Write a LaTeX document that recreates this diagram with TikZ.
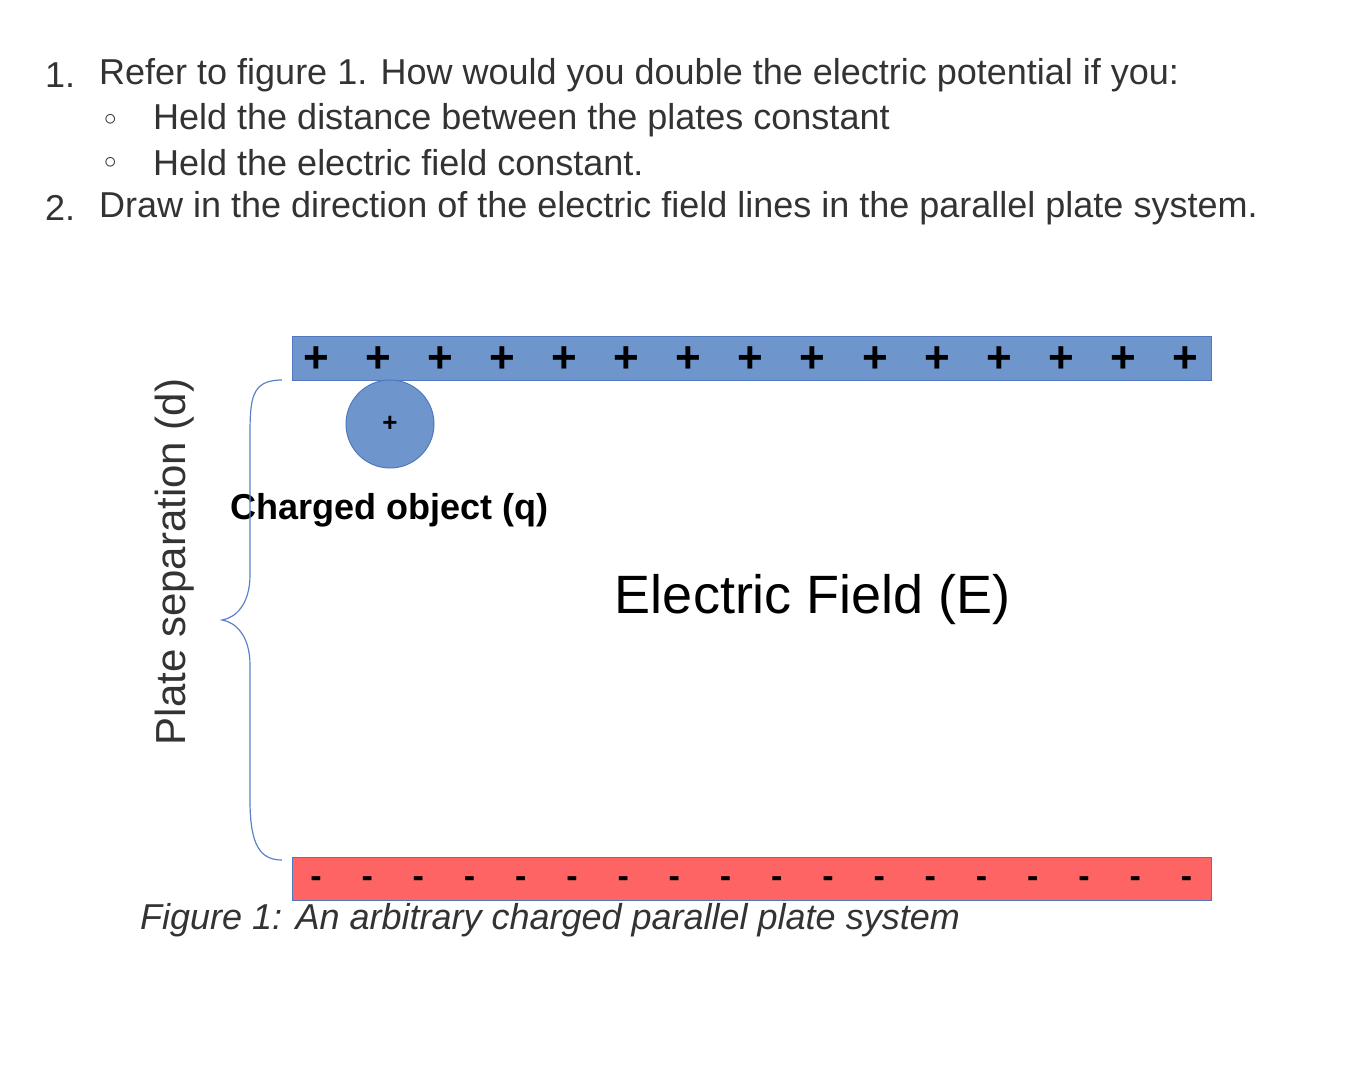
\documentclass[tikz,border=0pt]{standalone}
\usepackage{fontspec}
\setmainfont{Liberation Sans}
\definecolor{pblue}{RGB}{110,150,205}
\definecolor{pedge}{RGB}{80,120,190}
\definecolor{pred}{RGB}{255,100,100}
\definecolor{brace}{RGB}{90,130,200}
\begin{document}
\begin{tikzpicture}[x=1pt,y=-1pt,
  txt/.style={anchor=west,inner sep=0pt,font=\fontsize{36}{40}\selectfont,text=black!80},
  plate/.style={draw=pedge,line width=1pt}]
\useasboundingbox (0,0) rectangle (1361,1080);
\node[txt] (n1) at (45,75) {1.};
\node[txt] (t1) at (99,75) {Refer to figure 1. How would you double the electric potential if you:};
\node[txt] (b1) at (104,120) {$\circ$};
\node[txt] (t2) at (153,120) {Held the distance between the plates constant};
\node[txt] (b2) at (104,163) {$\circ$};
\node[txt] (t3) at (153,163) {Held the electric field constant.};
\node[txt] (n2) at (45,208) {2.};
\node[txt] (t4) at (99,208) {Draw in the direction of the electric field lines in the parallel plate system.};
\filldraw[plate,fill=pblue] (292,336) rectangle (1211,380);
\filldraw[plate,fill=pred] (292,857) rectangle (1211,900);
\foreach \i in {0,...,14} \node[font=\bfseries\fontsize{44}{44}\selectfont] at (316+62.1*\i,360) {+};
\foreach \i in {0,...,17} \node[font=\bfseries\fontsize{34}{34}\selectfont] at (316+51.2*\i,882) {-};
\node[circle,draw=pedge,line width=1pt,fill=pblue,minimum size=88pt,inner sep=0pt,font=\bfseries\fontsize{26}{26}\selectfont] (q) at (390,424) {+};
\node[font=\bfseries\fontsize{36}{40}\selectfont,anchor=west,inner sep=0pt] (ql) at (230,510) {Charged object (q)};
\node[font=\fontsize{54}{58}\selectfont,inner sep=0pt] (E) at (813,600) {Electric Field (E)};
\node[rotate=90,font=\fontsize{42}{46}\selectfont,text=black!80,inner sep=0pt] (d) at (175,562) {Plate separation (d)};
\draw[brace,line width=1.2pt] (282,380) .. controls (250,380) and (250,400) .. (250,440) -- (250,575) .. controls (250,605) and (235,618) .. (222,620) .. controls (235,622) and (250,635) .. (250,665) -- (250,800) .. controls (250,845) and (260,860) .. (282,860);
\node[txt,font=\itshape\fontsize{36}{40}\selectfont] (cap) at (140,920) {Figure 1: An arbitrary charged parallel plate system};
\end{tikzpicture}
\end{document}
